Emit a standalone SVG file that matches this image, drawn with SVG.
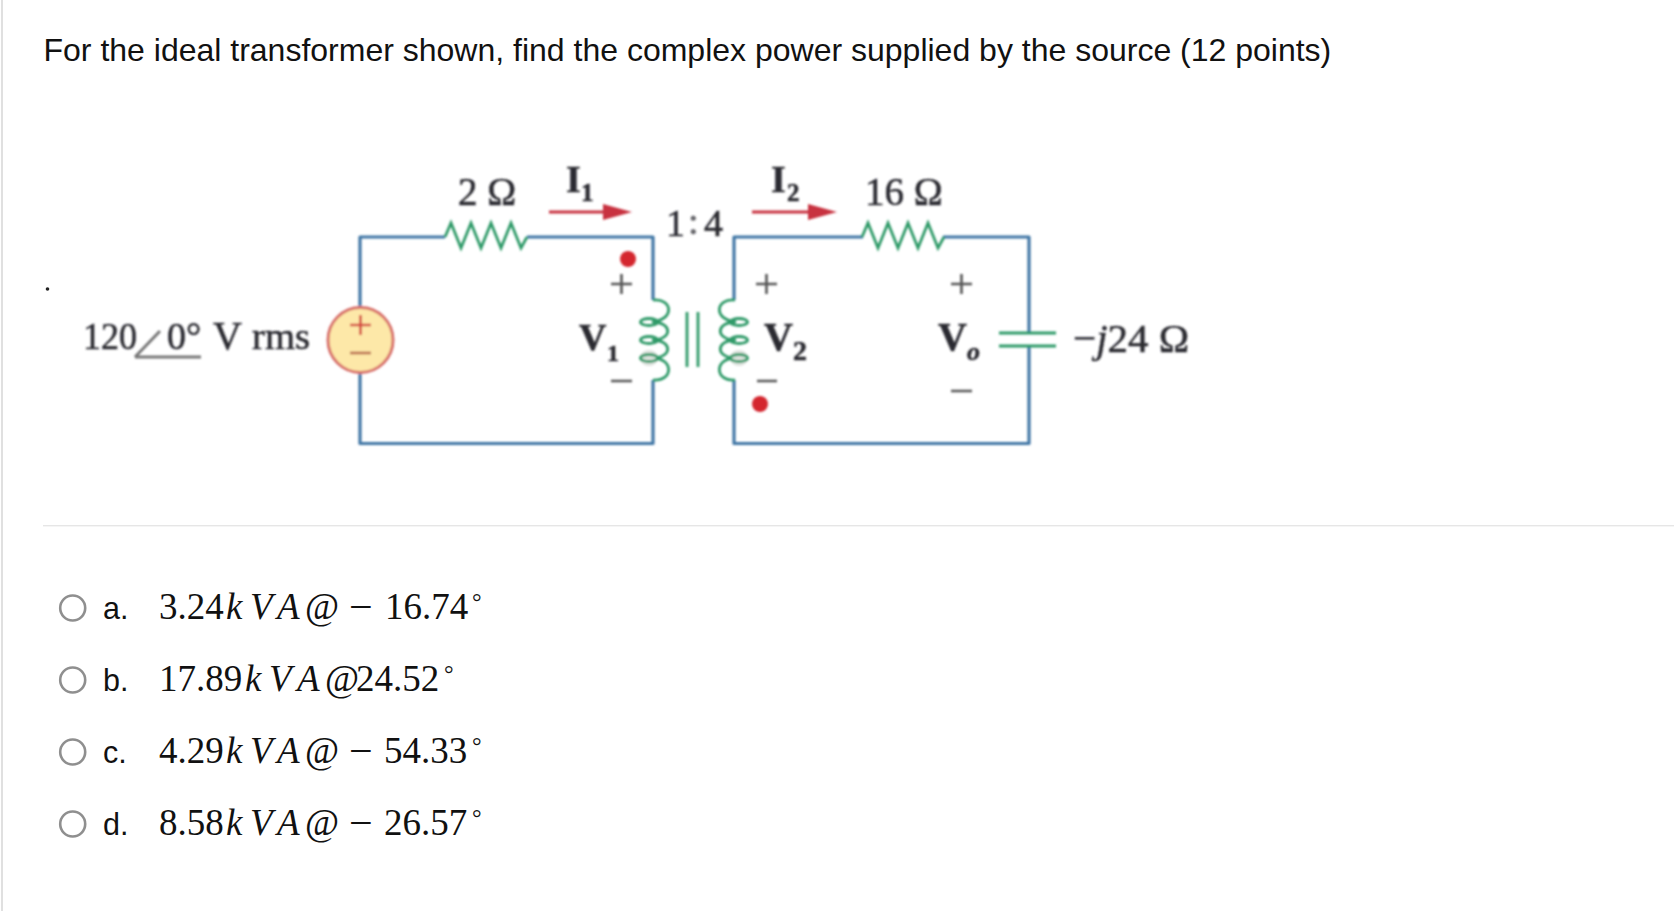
<svg xmlns="http://www.w3.org/2000/svg" width="1674" height="911" viewBox="0 0 1674 911">
<style>
.s{font-family:"Liberation Sans",Arial,sans-serif;fill:#111}
.t{font-family:"Liberation Serif","Times New Roman",serif;fill:#2a2a30;stroke:#2a2a30;stroke-width:0.5}
.b{font-weight:bold}
.m{font-family:"Liberation Serif","Times New Roman",serif;font-size:37px;fill:#111}
.n{font-size:42px}
.e{font-size:24px}
.i{font-style:italic}
.w{fill:none;stroke:#3f76a5;stroke-width:3.2;stroke-linejoin:round}
.g{fill:none;stroke:#2f9a68;stroke-width:2.8;stroke-linejoin:miter}
.a{fill:none;stroke:#c8323f;stroke-width:3}
.h{fill:#c8323f}
.d{fill:#d4272f}
.p{fill:none;stroke:#555;stroke-width:2.6}
.r{fill:#fff;stroke:#8f8f8f;stroke-width:2.6}
</style>
<defs>
<filter id="blur" x="-5%" y="-5%" width="110%" height="110%"><feGaussianBlur stdDeviation="0.8"/></filter>
<path id="zig" d="M0 14 L6 0 L16 25 L26 0 L36 25 L46 0 L56 25 L66 0 L76 25 L82 14"/>
<path id="coil" d="M653 300 C673 298 675 320 652 322 C673 322 673 340 652 340 C673 340 673 358 652 358 C675 358 673 382 653 380"/>
</defs>
<rect width="1674" height="911" fill="#fff"/>
<rect x="1" y="0" width="2" height="911" fill="#e0e0e0"/>
<text id="title" class="s" x="43.500" y="61" font-size="32">For the ideal transformer shown, find the complex power supplied by the source (12 points)</text>
<circle cx="47.500" cy="289" r="1.800" fill="#222"/>
<rect x="43" y="525" width="1631" height="1.400" fill="#e6e6e6"/>

<g filter="url(#blur)">
<g id="connectors">
<path class="w" d="M360 307 V237 H445 M527 237 H653 V300 M653 380 V443.500 H360 V373"/>
<path class="w" d="M734 300 V237 H863 M943 237 H1029 V334 M1029 347 V443.500 H734 V380"/>
<path class="a" d="M549 212 H606"/><polygon class="h" points="603,204 632,212 603,220"/>
<path class="a" d="M752 212 H811"/><polygon class="h" points="808,204 837,212 808,220"/>
</g>
<g id="source">
<circle cx="360.500" cy="340" r="32.500" fill="#fde8a8" stroke="#d8706a" stroke-width="3"/>
<path d="M350 325 H371 M360.500 315 V335" stroke="#d4473f" stroke-width="2.600" fill="none"/>
<path d="M350 353 H371" stroke="#b96a4a" stroke-width="2.600" fill="none"/>
<text class="t" font-size="38" x="83" y="349" textLength="54" lengthAdjust="spacingAndGlyphs">120</text>
<path d="M135 357 L160 331 M135 357 H201" stroke="#777" stroke-width="3" fill="none"/>
<text class="t" font-size="38" x="167" y="349">0°</text>
<text class="t" font-size="40" x="213" y="349">V</text>
<text class="t" font-size="38" x="252" y="349" textLength="58" lengthAdjust="spacingAndGlyphs">rms</text>
</g>
<g id="r1">
<use href="#zig" x="445" y="223" class="g"/>
<text class="t" font-size="39" x="458" y="205">2 Ω</text>
</g>
<g id="i1">
<text class="t b" font-size="38" x="566" y="192">I</text>
<text class="t b" font-size="25" x="581" y="201">1</text>
</g>
<g id="ratio">
<text class="t" font-size="38" x="666" y="236">1</text><text class="t" font-size="38" x="688" y="234" fill-opacity="0.7">:</text><text class="t" font-size="38" x="704" y="236">4</text>
</g>
<g id="i2">
<text class="t b" font-size="38" x="771" y="192">I</text>
<text class="t b" font-size="25" x="787" y="201">2</text>
</g>
<g id="r2">
<use href="#zig" x="862" y="223" class="g"/>
<text class="t" font-size="39" x="865" y="205">16 Ω</text>
</g>
<g id="transformer">
<use href="#coil" class="g"/>
<use href="#coil" class="g" transform="matrix(-1 0 0 1 1388 0)"/>
<ellipse cx="649" cy="358" rx="9" ry="8" fill="#dfe3df"/>
<ellipse cx="739" cy="358" rx="9" ry="8" fill="#dfe3df"/>
<g class="g" stroke-width="2">
<ellipse cx="649" cy="322" rx="8.500" ry="3.500"/><ellipse cx="649" cy="340" rx="8.500" ry="3.500"/><ellipse cx="649" cy="358" rx="8.500" ry="3.500"/>
<ellipse cx="739" cy="322" rx="8.500" ry="3.500"/><ellipse cx="739" cy="340" rx="8.500" ry="3.500"/><ellipse cx="739" cy="358" rx="8.500" ry="3.500"/>
</g>
<path class="g" d="M687 312 V367 M698 312 V367"/>
<circle class="d" cx="628" cy="259" r="8"/>
<circle class="d" cx="760" cy="404" r="8"/>
</g>
<g id="v1">
<path class="p" d="M611 284 H632 M621.500 274 V294 M611 381 H632"/>
<text class="t b" font-size="38" x="579" y="350">V</text>
<text class="t b" font-size="24" x="607" y="361" fill="#7a2a35">1</text>
</g>
<g id="v2">
<path class="p" d="M756 284 H777 M766.500 274 V294 M757 381 H777"/>
<text class="t b" font-size="40" x="764" y="350">V</text>
<text class="t b" font-size="28" x="793" y="360">2</text>
</g>
<g id="vo">
<path class="p" d="M951 284 H972 M961.500 274 V294 M951 391 H972"/>
<text class="t b" font-size="40" x="938" y="350">V</text>
<text class="t b i" font-size="26" x="967" y="360">o</text>
</g>
<g id="cap">
<path class="g" stroke-width="3.400" d="M999 333 H1056 M999 346 H1056"/>
<text class="t" font-size="41" x="1073" y="352">−<tspan class="i">j</tspan>24 Ω</text>
</g>
</g>

<g id="option-a">
<circle class="r" cx="72.700" cy="608" r="12.500"/>
<text class="s" font-size="30.500" x="103" y="619">a.</text>
<text class="m" y="619"><tspan x="159">3.24</tspan><tspan class="i" x="226">k</tspan><tspan class="i" x="250">V</tspan><tspan class="i" x="277">A</tspan><tspan x="305">@</tspan></text>
<text class="m n" x="349" y="621">−</text>
<text class="m" x="385" y="619">16.74</text>
<text class="m e" x="472" y="610">°</text>
</g>
<g id="option-b">
<circle class="r" cx="72.700" cy="680" r="12.500"/>
<text class="s" font-size="30.500" x="103" y="691">b.</text>
<text class="m" y="691"><tspan x="159">17.89</tspan><tspan class="i" x="245">k</tspan><tspan class="i" x="269">V</tspan><tspan class="i" x="297">A</tspan><tspan x="325">@</tspan><tspan x="356">24.52</tspan></text>
<text class="m e" x="444" y="682">°</text>
</g>
<g id="option-c">
<circle class="r" cx="72.700" cy="752" r="12.500"/>
<text class="s" font-size="30.500" x="103" y="763">c.</text>
<text class="m" y="763"><tspan x="159">4.29</tspan><tspan class="i" x="226">k</tspan><tspan class="i" x="250">V</tspan><tspan class="i" x="277">A</tspan><tspan x="305">@</tspan></text>
<text class="m n" x="349" y="765">−</text>
<text class="m" x="384" y="763">54.33</text>
<text class="m e" x="472" y="754">°</text>
</g>
<g id="option-d">
<circle class="r" cx="72.700" cy="824" r="12.500"/>
<text class="s" font-size="30.500" x="103" y="835">d.</text>
<text class="m" y="835"><tspan x="159">8.58</tspan><tspan class="i" x="226">k</tspan><tspan class="i" x="250">V</tspan><tspan class="i" x="277">A</tspan><tspan x="305">@</tspan></text>
<text class="m n" x="349" y="837">−</text>
<text class="m" x="384" y="835">26.57</text>
<text class="m e" x="472" y="826">°</text>
</g>
</svg>
